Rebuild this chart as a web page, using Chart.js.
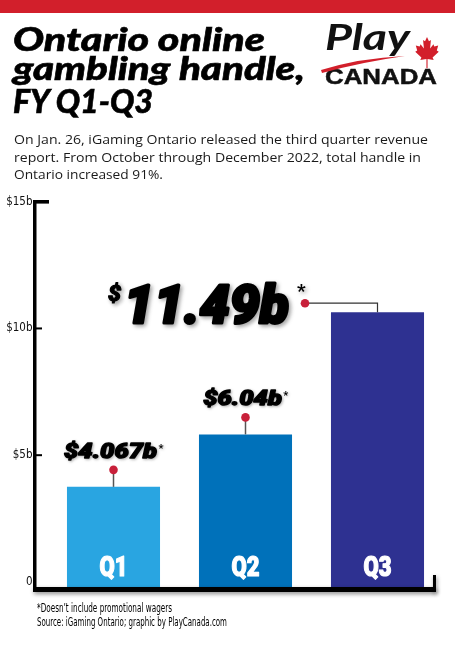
<!DOCTYPE html>
<html><head><meta charset="utf-8">
<script src="https://cdn.jsdelivr.net/npm/chart.js@4.4.1/dist/chart.umd.min.js"></script>
<style>
html,body{margin:0;padding:0;background:#fff;}
#wrap{position:relative;width:455px;height:645px;overflow:hidden;background:#fff;}
#topbar{position:absolute;left:0;top:0;width:455px;height:13px;background:#d21f2b;}
.txt{position:absolute;white-space:nowrap;transform-origin:0 0;line-height:1;z-index:2;}
.t{font-family:Lato,'Open Sans',sans-serif;font-weight:900;font-style:italic;font-size:33px;color:#000;-webkit-text-stroke:0.6px #000;}
.sub{font-family:'Open Sans',sans-serif;font-size:12.5px;color:#1a1a1a;}
.foot{font-family:'Liberation Sans Narrow','DejaVu Sans Condensed',sans-serif;font-size:11.5px;color:#000;}
.play{font-family:Lato,sans-serif;font-style:italic;font-weight:700;font-size:36px;color:#111;}
.canada{font-family:'Liberation Sans',Arial,sans-serif;font-weight:700;font-size:22px;color:#111;-webkit-text-stroke:0.5px #111;}
#c{position:absolute;left:0;top:0;z-index:1;}
svg{position:absolute;left:0;top:0;z-index:3;}
</style>
</head>
<body>
<div id="wrap">
  <div id="topbar"></div>
  <div class="txt t" id="t1">Ontario online</div>
  <div class="txt t" id="t2">gambling handle,</div>
  <div class="txt t" id="t3">FY Q1-Q3</div>
  <div class="txt play" id="lp">Play</div>
  <div class="txt canada" id="lc">CANADA</div>
  <svg width="455" height="120" viewBox="0 0 455 120">
    <path d="M321,70 Q360,58 405,56 Q362,62 322,73 Z" fill="#d21f2b"/>
    <g transform="translate(413,37) scale(0.28,0.33)">
      <path d="M50,0 L57,13 L64,9 L61,35 L73,22 L76,29 L90,26 L85,41 L92,45 L70,62 L74,70 L52,67 L52,95 L48,95 L48,67 L26,70 L30,62 L8,45 L15,41 L10,26 L24,29 L27,22 L39,35 L36,9 L43,13 Z" fill="#d21f2b"/>
    </g>
  </svg>
  <div class="txt sub" id="s1">On Jan. 26, iGaming Ontario released the third quarter revenue</div>
  <div class="txt sub" id="s2">report. From October through December 2022, total handle in</div>
  <div class="txt sub" id="s3">Ontario increased 91%.</div>
  <div class="txt foot" id="f1">*Doesn’t include promotional wagers</div>
  <div class="txt foot" id="f2">Source: iGaming Ontario; graphic by PlayCanada.com</div>
  <canvas id="c" width="455" height="645"></canvas>
</div>
<script>
// ---- data ----
const categories = ['Q1', 'Q2', 'Q3'];
const handleBillions = [3.75, 5.82, 10.64];          // bar heights as drawn ($ billions)
const valueLabels = ['$4.067b', '$6.04b', '$11.49b']; // annotation labels
const tickValues = [0, 5, 10, 15];
const tickLabels = ['0', '$5b', '$10b', '$15b'];

// ---- styles ----
const AXIS_MIN = -0.2;
const barColors = ['#29a5e1', '#0071ba', '#2e3191'];
const RED = '#c8203a';
const VALUE_FONT = "italic 900 21px Roboto, 'DejaVu Sans', sans-serif";
const BIG_FONT = "italic 900 53px Roboto, 'DejaVu Sans', sans-serif";
const SUP_FONT = "italic 900 22px Roboto, 'DejaVu Sans', sans-serif";
const Q_FONT = "900 27px Roboto, 'DejaVu Sans', sans-serif";

// ---- html text placement ----
function place(id, left, baseline, width) {
  const el = document.getElementById(id);
  const probe = document.createElement('span');
  probe.style.cssText = 'display:inline-block;width:0;height:0;vertical-align:baseline;';
  el.appendChild(probe);
  el.style.left = left + 'px';
  el.style.top = '0px';
  const b = probe.offsetTop;
  const w = el.getBoundingClientRect().width;
  el.style.top = (baseline - b) + 'px';
  if (width) el.style.transform = 'scaleX(' + (width / w) + ')';
}
place('t1', 13, 51, 252);
place('t2', 13, 80, 292);
place('t3', 13, 113, 140);
place('lp', 325, 50, 85);
place('lc', 325, 84, 112);
place('s1', 14, 144, 414);
place('s2', 14, 161.5, 407);
place('s3', 14, 179, 149);
place('f1', 37, 612, 135);
place('f2', 37, 626, 190);

// ---- canvas helpers ----
function textW(ctx, text, font) { ctx.save(); ctx.font = font; const w = ctx.measureText(text).width; ctx.restore(); return w; }
function drawScaled(ctx, text, left, baseline, font, sx, color, stroke) {
  ctx.save();
  ctx.font = font; ctx.fillStyle = color; ctx.textAlign = 'left'; ctx.textBaseline = 'alphabetic';
  ctx.translate(left, baseline); ctx.scale(sx, 1);
  if (stroke) { ctx.lineJoin = 'round'; ctx.strokeStyle = color; ctx.lineWidth = stroke; ctx.strokeText(text, 0, 0); }
  ctx.fillText(text, 0, 0);
  ctx.restore();
}
function dot(ctx, x, y) { ctx.beginPath(); ctx.arc(x, y, 4.3, 0, Math.PI * 2); ctx.fillStyle = RED; ctx.fill(); }

const decor = {
  id: 'decor',
  afterDraw(chart) {
    const ctx = chart.ctx;
    const y = chart.scales.y;
    const area = chart.chartArea;
    const meta = chart.getDatasetMeta(0);
    // y axis line and tick marks
    ctx.save();
    ctx.fillStyle = '#000';
    const axX = 33, top15 = y.getPixelForValue(15);
    ctx.fillRect(axX, top15 - 1.5, 3.5, area.bottom + 5 - (top15 - 1.5));
    ctx.fillRect(axX, top15 - 1.7, 16, 3.6);
    tickValues.forEach(v => { if (v > 0 && v < 15) { const py = y.getPixelForValue(v); ctx.fillRect(axX + 2, py - 1, 7, 2); } });
    // bottom axis with shadow
    ctx.shadowColor = 'rgba(0,0,0,0.45)'; ctx.shadowBlur = 4; ctx.shadowOffsetY = 2; ctx.shadowOffsetX = 1;
    ctx.fillRect(axX, area.bottom, 403, 5);
    ctx.fillRect(axX + 400, area.bottom - 12, 3, 17);
    ctx.restore();

    // category labels inside bars
    const qScale = 28 / textW(ctx, categories[0], Q_FONT);
    meta.data.forEach((bar, i) => {
      const w = textW(ctx, categories[i], Q_FONT) * qScale;
      drawScaled(ctx, categories[i], bar.x - w / 2, area.bottom - 11, Q_FONT, qScale, '#fff', 1.2);
    });

    // value annotations Q1, Q2
    const vScale = 93 / textW(ctx, valueLabels[0], VALUE_FONT);
    [0, 1].forEach(i => {
      const bar = meta.data[i];
      const w = textW(ctx, valueLabels[i], VALUE_FONT) * vScale;
      const left = bar.x - 3 - w / 2;
      const base = bar.y - 29;
      ctx.save();
      ctx.shadowColor = 'rgba(0,0,0,0.25)'; ctx.shadowBlur = 3; ctx.shadowOffsetX = 1; ctx.shadowOffsetY = 1;
      drawScaled(ctx, valueLabels[i], left, base, VALUE_FONT, vScale, '#000', 1.4);
      drawScaled(ctx, '*', left + w + 1.5, base - 6, "bold 11px Roboto, sans-serif", 1, '#000');
      ctx.restore();
      ctx.save();
      ctx.strokeStyle = '#555'; ctx.lineWidth = 1.5;
      ctx.beginPath(); ctx.moveTo(bar.x, bar.y - 17); ctx.lineTo(bar.x, bar.y); ctx.stroke();
      ctx.restore();
      dot(ctx, bar.x, bar.y - 17);
    });

    // Q3 big annotation
    const b3 = meta.data[2];
    const dx = b3.x - 72.5, dy = b3.y - 9;
    ctx.save();
    ctx.strokeStyle = '#333'; ctx.lineWidth = 1.2;
    ctx.beginPath(); ctx.moveTo(dx, dy); ctx.lineTo(b3.x, dy); ctx.lineTo(b3.x, b3.y); ctx.stroke();
    ctx.restore();
    dot(ctx, dx, dy);
    const bigText = valueLabels[2].slice(1);
    const bigScale = 165 / textW(ctx, bigText, BIG_FONT);
    const bigLeft = dx - 15 - 166;
    const bigBase = b3.y + 11;
    ctx.save();
    ctx.shadowColor = 'rgba(0,0,0,0.3)'; ctx.shadowBlur = 4; ctx.shadowOffsetX = 2; ctx.shadowOffsetY = 2;
    drawScaled(ctx, bigText, bigLeft, bigBase, BIG_FONT, bigScale, '#000', 3);
    const supScale = 13 / textW(ctx, valueLabels[2][0], SUP_FONT);
    drawScaled(ctx, valueLabels[2][0], bigLeft - 16, bigBase - 22, SUP_FONT, supScale, '#000', 1.2);
    drawScaled(ctx, '*', dx - 8, dy - 6, "bold 19px Roboto, sans-serif", 1, '#000');
    ctx.restore();
  }
};

new Chart(document.getElementById('c'), {
  type: 'bar',
  data: {
    labels: categories,
    datasets: [{
      data: handleBillions,
      backgroundColor: barColors,
      base: AXIS_MIN,
      barPercentage: 0.705,
      categoryPercentage: 1,
      borderWidth: 0
    }]
  },
  options: {
    responsive: false,
    animation: false,
    devicePixelRatio: 1,
    layout: { padding: { top: 201.7, bottom: 58, left: 0, right: 11.5 } },
    plugins: { legend: { display: false }, tooltip: { enabled: false } },
    scales: {
      x: { display: false, offset: true },
      y: {
        min: AXIS_MIN, max: 15,
        afterBuildTicks: s => { s.ticks = tickValues.map(v => ({ value: v })); },
        afterFit: s => { s.width = 47.5; },
        grid: { display: false, drawTicks: false },
        border: { display: false },
        ticks: {
          padding: 15,
          color: '#111',
          font: { family: "'Liberation Sans Narrow','DejaVu Sans Condensed',sans-serif", size: 11.5 },
          callback: v => { const k = tickValues.indexOf(v); return k >= 0 ? tickLabels[k] : ''; }
        }
      }
    }
  },
  plugins: [decor]
});
</script>
</body></html>
